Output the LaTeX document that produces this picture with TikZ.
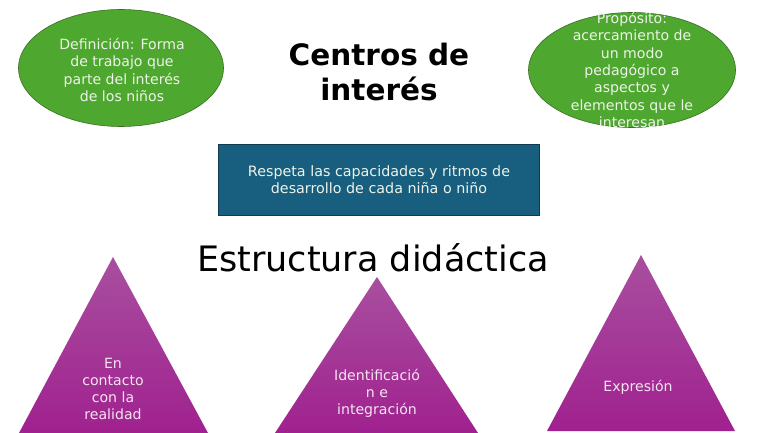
\documentclass[tikz,border=0pt]{standalone}
\usepackage{fontspec}
\setmainfont{DejaVu Sans}
\usetikzlibrary{shapes.geometric}
\definecolor{ellfill}{HTML}{4EA72E}
\definecolor{elldraw}{HTML}{3B6E24}
\definecolor{boxfill}{HTML}{175E7F}
\definecolor{boxdraw}{HTML}{0E3B4F}
\definecolor{tritop}{HTML}{A84F9F}
\definecolor{tribot}{HTML}{A0218F}
\definecolor{lighttext}{HTML}{EEF3EA}
\definecolor{tritext}{HTML}{F6E4F2}
\tikzset{
  ellshape/.style={ellipse, fill=ellfill, draw=elldraw, line width=0.6pt, inner sep=0pt},
  elltext/.style={align=center, text=lighttext, font=\fontsize{14.1}{17.3}\selectfont, inner sep=0pt},
  boxshape/.style={rectangle, fill=boxfill, draw=boxdraw, line width=1pt, inner sep=0pt, align=center, text=lighttext, font=\fontsize{14.3}{17}\selectfont},
  tritxt/.style={align=center, text=tritext, font=\fontsize{14.1}{17}\selectfont, inner sep=0pt},
  tri/.style={top color=tritop, bottom color=tribot, draw=none}
}
\begin{document}
\begin{tikzpicture}[x=1pt,y=-1pt]
\useasboundingbox[fill=white] (0,0) rectangle (768,433);
% ellipses
\node[ellshape, minimum width=205pt, minimum height=117pt] (def) at (121,68) {};
\node[elltext] (deft) at (122,70) {Definición: Forma\\de trabajo que\\parte del interés\\de los niños};
\node[ellshape, minimum width=207pt, minimum height=115pt] (prop) at (632,70) {};
\node[elltext] (propt) at (632,70) {Propósito:\\acercamiento de\\un modo\\pedagógico a\\aspectos y\\elementos que le\\interesan};
% title
\node[align=center, font=\fontsize{29.5}{35}\bfseries\selectfont, inner sep=0pt] (title) at (379,72) {Centros de\\interés};
% box
\node[boxshape, minimum width=321pt, minimum height=71pt] (box) at (379,180) {Respeta las capacidades y ritmos de\\desarrollo de cada niña o niño};
% subtitle
\node[font=\fontsize{35}{40}\selectfont, inner sep=0pt] (estr) at (373,258) {Estructura didáctica};
% triangles
\coordinate (a1) at (113,257); \coordinate (b1) at (19,433); \coordinate (c1) at (208,433);
\shade[tri] (a1) -- (b1) -- (c1) -- cycle;
\node[tritxt] (t1) at (113,389) {En\\contacto\\con la\\realidad};
\coordinate (a2) at (377,277); \coordinate (b2) at (275,433); \coordinate (c2) at (478,433);
\shade[tri] (a2) -- (b2) -- (c2) -- cycle;
\node[tritxt] (t2) at (377,393) {Identificació\\n e\\integración};
\coordinate (a3) at (641,255); \coordinate (b3) at (547,431); \coordinate (c3) at (735,431);
\shade[tri] (a3) -- (b3) -- (c3) -- cycle;
\node[tritxt] (t3) at (638,387) {Expresión};
\end{tikzpicture}
\end{document}
